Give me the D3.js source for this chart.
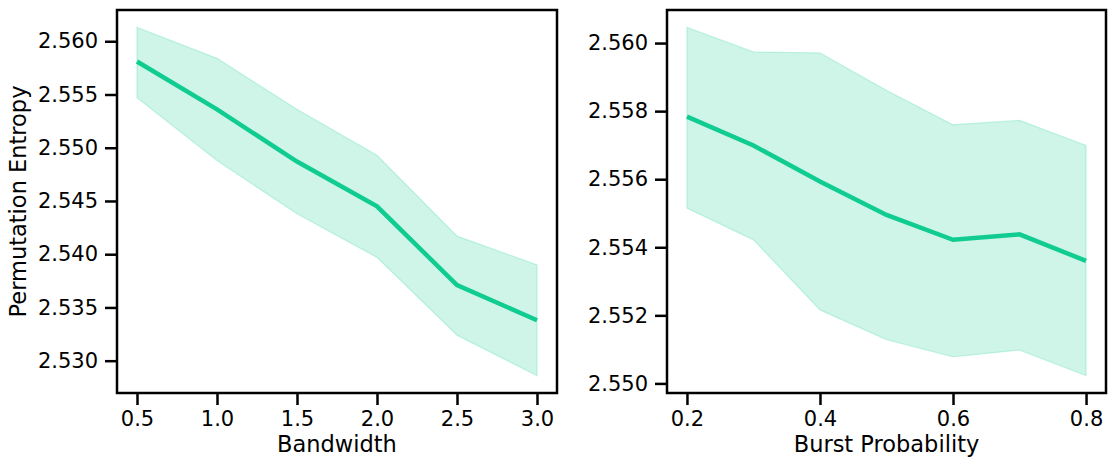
<!DOCTYPE html>
<html lang="en">
<head>
  <meta charset="UTF-8">
  <title>Permutation Entropy</title>
  <script src="https://d3js.org/d3.v7.min.js"></script>
  <style>
    body { margin: 0; background: #fff; }
    svg text { font-family: "DejaVu Sans", sans-serif; fill: #000; }
    .tick line { stroke: #000; stroke-width: 2.5; }
    .tick text { font-size: 21px; }
    .axis-label { font-size: 22.5px; }
  </style>
</head>
<body>
  <svg width="1116" height="466"></svg>

  <script>
    // Bandwidth panel
    const bandwidth = [0.5, 1.0, 1.5, 2.0, 2.5, 3.0];
    const bwMean  = [2.5581, 2.5536, 2.5487, 2.5445, 2.5371, 2.5338];
    const bwUpper = [2.5613, 2.5584, 2.5536, 2.5493, 2.5417, 2.5390];
    const bwLower = [2.5547, 2.5488, 2.5438, 2.5397, 2.5324, 2.5286];
    const bwXTicks = [0.5, 1.0, 1.5, 2.0, 2.5, 3.0];
    const bwYTicks = [2.530, 2.535, 2.540, 2.545, 2.550, 2.555, 2.560];

    // Burst probability panel
    const burst = [0.2, 0.3, 0.4, 0.5, 0.6, 0.7, 0.8];
    const bpMean  = [2.55784, 2.55699, 2.55593, 2.55495, 2.55422, 2.55438, 2.55360];
    const bpUpper = [2.56046, 2.55974, 2.55971, 2.55861, 2.55760, 2.55773, 2.55699];
    const bpLower = [2.55515, 2.55422, 2.55216, 2.55129, 2.55078, 2.55098, 2.55023];
    const bpXTicks = [0.2, 0.4, 0.6, 0.8];
    const bpYTicks = [2.550, 2.552, 2.554, 2.556, 2.558, 2.560];

    const lineColor = "#11cc91";
    const svg = d3.select("svg");
    const plotTop = 10, plotBottom = 393;

    // matplotlib-style 5% padding around the data
    function padded(ext) {
      const m = (ext[1] - ext[0]) * 0.05;
      return [ext[0] - m, ext[1] + m];
    }

    function panel(opts) {
      const g = svg.append("g");
      const rows = opts.xs.map((x, i) => ({x: x, m: opts.mean[i], lo: opts.lower[i], hi: opts.upper[i]}));

      const x = d3.scaleLinear()
                  .domain(padded(d3.extent(opts.xs)))
                  .range([opts.left, opts.right]);
      const y = d3.scaleLinear()
                  .domain(padded([d3.min(opts.lower.concat(opts.mean)), d3.max(opts.upper.concat(opts.mean))]))
                  .range([plotBottom, plotTop]);

      // confidence band
      g.append("path")
       .datum(rows)
       .attr("d", d3.area().x(d => x(d.x)).y0(d => y(d.lo)).y1(d => y(d.hi)))
       .attr("fill", lineColor)
       .attr("fill-opacity", 0.2)
       .attr("stroke", lineColor)
       .attr("stroke-opacity", 0.2)
       .attr("stroke-width", 1.3);

      // mean line
      g.append("path")
       .datum(rows)
       .attr("d", d3.line().x(d => x(d.x)).y(d => y(d.m)))
       .attr("fill", "none")
       .attr("stroke", lineColor)
       .attr("stroke-width", 4.5);

      // axes
      const xa = g.append("g")
       .attr("transform", `translate(0,${plotBottom})`)
       .call(d3.axisBottom(x).tickValues(opts.xTicks).tickFormat(d3.format(".1f"))
             .tickSize(12).tickPadding(6).tickSizeOuter(0));
      xa.select(".domain").remove();

      const ya = g.append("g")
       .attr("transform", `translate(${opts.left},0)`)
       .call(d3.axisLeft(y).tickValues(opts.yTicks).tickFormat(d3.format(".3f"))
             .tickSize(12).tickPadding(7).tickSizeOuter(0));
      ya.select(".domain").remove();

      // frame
      g.append("rect")
       .attr("x", opts.left)
       .attr("y", plotTop)
       .attr("width", opts.right - opts.left)
       .attr("height", plotBottom - plotTop)
       .attr("fill", "none")
       .attr("stroke", "#000")
       .attr("stroke-width", 2.5);

      g.append("text")
       .attr("class", "axis-label")
       .attr("text-anchor", "middle")
       .attr("x", (opts.left + opts.right) / 2)
       .attr("y", 452)
       .text(opts.xLabel);

      if (opts.yLabel) {
        g.append("text")
         .attr("class", "axis-label")
         .attr("text-anchor", "middle")
         .attr("transform", `translate(26,${(plotTop + plotBottom) / 2}) rotate(-90)`)
         .text(opts.yLabel);
      }
    }

    panel({left: 117, right: 557, xs: bandwidth, mean: bwMean, lower: bwLower, upper: bwUpper,
           xTicks: bwXTicks, yTicks: bwYTicks, xLabel: "Bandwidth", yLabel: "Permutation Entropy"});
    panel({left: 667, right: 1106, xs: burst, mean: bpMean, lower: bpLower, upper: bpUpper,
           xTicks: bpXTicks, yTicks: bpYTicks, xLabel: "Burst Probability", yLabel: null});
  </script>
</body>
</html>
